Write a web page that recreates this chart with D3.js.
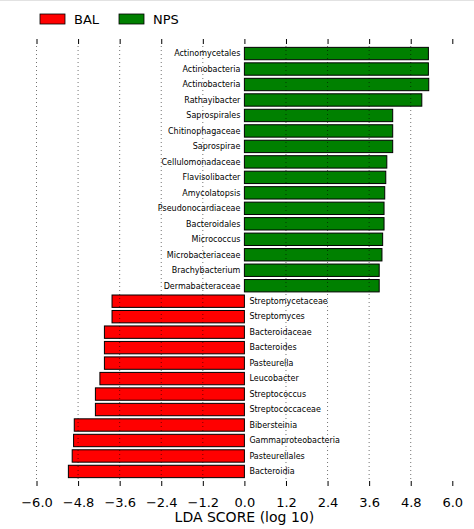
<!DOCTYPE html>
<html>
<head>
<meta charset="utf-8">
<script src="https://cdn.jsdelivr.net/npm/d3@7"></script>
<style>
  body { margin: 0; background: #fff; }
  text { font-family: "DejaVu Sans", sans-serif; }
</style>
</head>
<body>
<div id="chart"></div>
<script>
// taxa, top to bottom
var taxa = ["Actinomycetales", "Actinobacteria", "Actinobacteria", "Rathayibacter",
  "Saprospirales", "Chitinophagaceae", "Saprospirae", "Cellulomonadaceae",
  "Flavisolibacter", "Amycolatopsis", "Pseudonocardiaceae", "Bacteroidales",
  "Micrococcus", "Microbacteriaceae", "Brachybacterium", "Dermabacteraceae",
  "Streptomycetaceae", "Streptomyces", "Bacteroidaceae", "Bacteroides",
  "Pasteurella", "Leucobacter", "Streptococcus", "Streptococcaceae",
  "Bibersteinia", "Gammaproteobacteria", "Pasteurellales", "Bacteroidia"];

// signed LDA scores (negative = BAL, positive = NPS)
var ldaScores = [5.31, 5.31, 5.32, 5.12,
  4.28, 4.28, 4.28, 4.11,
  4.08, 4.05, 4.03, 4.03,
  3.99, 3.97, 3.89, 3.89,
  -3.82, -3.82, -4.04, -4.04,
  -4.04, -4.17, -4.30, -4.30,
  -4.91, -4.93, -4.97, -5.08];

var groups = ["BAL", "NPS"];
var groupColors = ["#ff0000", "#008000"];

var tickValues = [-6.0, -4.8, -3.6, -2.4, -1.2, 0.0, 1.2, 2.4, 3.6, 4.8, 6.0];

var width = 474, height = 529;

var svg = d3.select("#chart").append("svg")
    .attr("width", width)
    .attr("height", height);

// faint frame line at top of the picture
svg.append("line")
    .attr("x1", 0).attr("x2", width)
    .attr("y1", 0.5).attr("y2", 0.5)
    .attr("stroke", "#e2e2e2");

var x = d3.scaleLinear()
    .domain([-6, 6])
    .range([36.5, 452.3]);

var y = d3.scaleBand()
    .domain(d3.range(taxa.length))
    .range([39, 486])
    .paddingInner(0.2)
    .paddingOuter(0.54);

var color = d3.scaleOrdinal().domain(groups).range(groupColors);

// bars
svg.append("g").selectAll("rect")
    .data(ldaScores)
  .enter().append("rect")
    .attr("x", function(d) { return x(Math.min(0, d)); })
    .attr("y", function(d, i) { return y(i); })
    .attr("width", function(d) { return Math.abs(x(d) - x(0)); })
    .attr("height", y.bandwidth())
    .attr("fill", function(d) { return color(d < 0 ? "BAL" : "NPS"); })
    .attr("stroke", "#000")
    .attr("stroke-width", 1);

// dotted grid over the bars
svg.append("g").selectAll("line")
    .data(tickValues.filter(function(t) { return t !== 0 && t < 6; }))
  .enter().append("line")
    .attr("x1", function(d) { return x(d); })
    .attr("x2", function(d) { return x(d); })
    .attr("y1", 46)
    .attr("y2", 480)
    .attr("stroke", "#000")
    .attr("stroke-opacity", 0.55)
    .attr("stroke-dasharray", "1,3");

// labels on the other side of zero
svg.append("g").selectAll("text")
    .data(ldaScores)
  .enter().append("text")
    .attr("x", function(d) { return d < 0 ? x(0) + 5 : x(0) - 4; })
    .attr("y", function(d, i) { return y(i) + y.bandwidth() / 2; })
    .attr("dy", "0.35em")
    .attr("text-anchor", function(d) { return d < 0 ? "start" : "end"; })
    .attr("font-size", 8)
    .text(function(d, i) { return taxa[i]; });

// axes: inward ticks top and bottom, no spines
var fmt = d3.format(".1f");
var xAxisBottom = svg.append("g")
    .attr("transform", "translate(0,486)")
    .call(d3.axisBottom(x).tickValues(tickValues).tickSizeInner(-5).tickSizeOuter(0)
      .tickPadding(12).tickFormat(fmt));
xAxisBottom.select(".domain").remove();
xAxisBottom.selectAll("text")
    .attr("font-size", 13)
    .attr("font-family", "DejaVu Sans, sans-serif")
    .attr("fill", "#000");
xAxisBottom.selectAll("line").attr("stroke", "#000");

var xAxisTop = svg.append("g")
    .attr("transform", "translate(0,39)")
    .call(d3.axisTop(x).tickValues(tickValues).tickSizeInner(-5).tickSizeOuter(0)
      .tickFormat(""));
xAxisTop.select(".domain").remove();
xAxisTop.selectAll("line").attr("stroke", "#000");

svg.append("text")
    .attr("x", x(0))
    .attr("y", 522)
    .attr("text-anchor", "middle")
    .attr("font-size", 14)
    .text("LDA SCORE (log 10)");

// legend
var legend = svg.append("g").selectAll("g")
    .data(groups)
  .enter().append("g")
    .attr("transform", function(d, i) { return "translate(" + (40 + i * 79) + ",14)"; });
legend.append("rect")
    .attr("width", 25)
    .attr("height", 10)
    .attr("fill", function(d) { return color(d); })
    .attr("stroke", "#000")
    .attr("stroke-width", 0.8);
legend.append("text")
    .attr("x", 34)
    .attr("y", 9.5)
    .attr("font-size", 13)
    .text(function(d) { return d; });
</script>
</body>
</html>
